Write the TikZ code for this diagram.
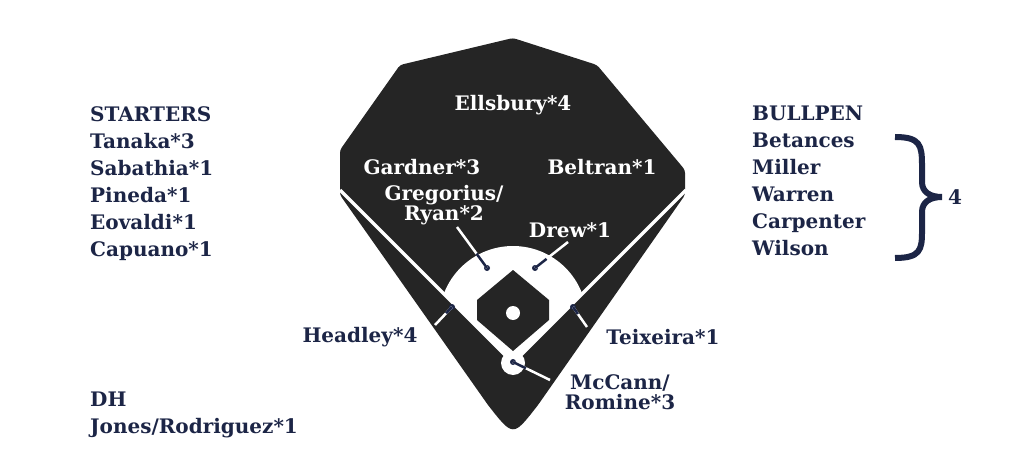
\documentclass[tikz,border=0pt]{standalone}
\usepackage{fontspec}
\setmainfont{DejaVu Serif}
\usetikzlibrary{calc}
\begin{document}
\begin{tikzpicture}[x=1pt,y=-1pt,
  lbl/.style={font=\bfseries\fontsize{20}{27}\selectfont,inner sep=0pt},
  wl/.style={lbl,white,align=center,font=\bfseries\fontsize{20}{20}\selectfont},
  nl/.style={lbl,text=navy,align=left,anchor=west},
  dot/.style={circle,fill=navy,inner sep=0pt,minimum size=6pt}]
\definecolor{navy}{HTML}{1C2546}
\definecolor{field}{HTML}{252525}
\useasboundingbox (0,0) rectangle (1024,465);
% field
\fill[field,rounded corners=3pt] (400,65) -- (513,38) -- (597,65) -- (685,170) -- (685,195)
  -- (538,405) [sharp corners] .. controls (513,437) .. (488,405) [rounded corners=3pt] -- (340,195) -- (340,150) -- cycle;
% infield white
\begin{scope}
\clip (513,363) -- (337,187) -- (689,187) -- cycle;
\fill[white] (513,320) circle (74);
\end{scope}
\fill[white] (513,363) circle (12);
\draw[white,line width=3.5pt] (513,363) -- (340,190) (513,363) -- (686,190);
\fill[field] (513,270) -- (549,300) -- (549,320) -- (513,351) -- (477,320) -- (477,300) -- cycle;
\fill[white] (513,313) circle (7);
% players
\node[dot] (ss) at (487,268) {};
\coordinate (ssl) at (457,227);
\node[dot] (b2) at (535,268) {};
\coordinate (b2l) at (568,242);
\node[dot] (b3) at (452,307) {};
\coordinate (b3l) at (435,325);
\node[dot] (b1) at (573,307) {};
\coordinate (b1l) at (587,327);
\node[dot] (c) at (513,362) {};
\coordinate (cl) at (550,380);
\foreach \a/\b in {ss/ssl,b2/b2l,b3/b3l,b1/b1l,c/cl}{
  \draw[white,line width=2.5pt] (\a.center) -- (\b);
  \draw[navy,line width=2.5pt] (\a.center) -- ($(\a.center)!0.35!(\b)$);
}
\node[wl] (ell) at (513,105) {Ellsbury*4};
\node[wl] (gar) at (422,167) {Gardner*3};
\node[wl] (bel) at (602,167) {Beltran*1};
\node[wl] (greg) at (444,205) {Gregorius/\\Ryan*2};
\node[wl] (drew) at (570,230) {Drew*1};
\node[lbl,text=navy] (hea) at (360,337) {Headley*4};
\node[lbl,text=navy] (tei) at (663,337) {Teixeira*1};
\node[lbl,text=navy,align=center,font=\bfseries\fontsize{20}{20}\selectfont] (mcc) at (620,392) {McCann/\\Romine*3};
\node[nl,anchor=north west,align=left] (st) at (90,106) {STARTERS\\Tanaka*3\\Sabathia*1\\Pineda*1\\Eovaldi*1\\Capuano*1};
\node[nl,anchor=north west] (dh) at (90,392) {DH\\Jones/Rodriguez*1};
\node[nl,anchor=north west] (bp) at (752,106) {BULLPEN\\Betances\\Miller\\Warren\\Carpenter\\Wilson};
\draw[navy,line width=6pt] (895,137) .. controls (920,137) and (922,145) .. (922,165) -- (922,182)
  .. controls (922,192) and (930,197) .. (942,197) .. controls (930,197) and (922,202) .. (922,212)
  -- (922,232) .. controls (922,250) and (920,258) .. (895,258);
\coordinate (br) at (942,197);
\node[lbl,text=navy,anchor=west] (four) at (948,197) {4};
\end{tikzpicture}
\end{document}
